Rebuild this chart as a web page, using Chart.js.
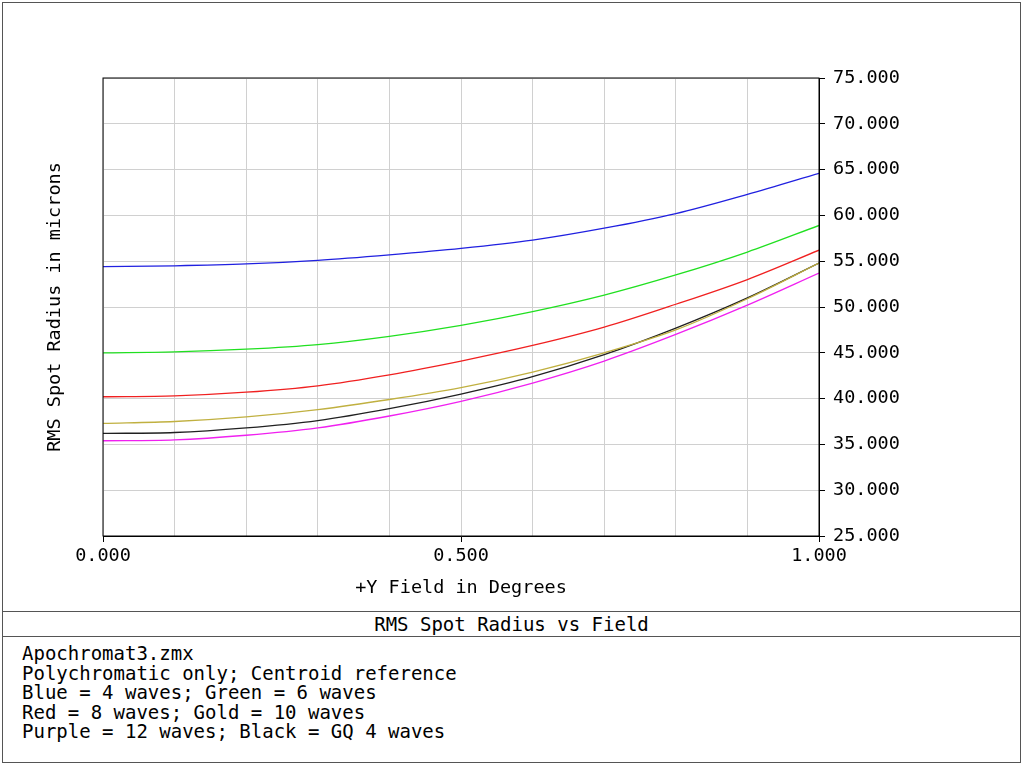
<!DOCTYPE html>
<html>
<head>
<meta charset="UTF-8">
<script src="https://cdn.jsdelivr.net/npm/chart.js"></script>
<style>
  body { margin: 0; background: #fff; font-family: 'DejaVu Sans Mono', monospace; }
  #frame { position: absolute; left: 2px; top: 2px; width: 1017px; height: 759px; border: 1px solid #555; }
  #plot { position: absolute; left: 0; top: 0; width: 1017px; height: 608px; }
  #title { position: absolute; left: 0; top: 608px; width: 1017px; height: 24px; border-top: 1px solid #555; border-bottom: 1px solid #555;
           text-align: center; font-size: 19px; line-height: 24px; }
  #notes { position: absolute; left: 19px; top: 641px; font-size: 19px; line-height: 19.5px; white-space: pre; }
</style>
</head>
<body>
<div id="frame">
  <div id="plot"><canvas id="c"></canvas></div>
  <div id="title">RMS Spot Radius vs Field</div>
  <div id="notes">Apochromat3.zmx
Polychromatic only; Centroid reference
Blue = 4 waves; Green = 6 waves
Red = 8 waves; Gold = 10 waves
Purple = 12 waves; Black = GQ 4 waves</div>
</div>
<script>
const field = [0, 0.1, 0.2, 0.3, 0.4, 0.5, 0.6, 0.7, 0.8, 0.9, 1.0];
const blue   = [54.4, 54.5, 54.7, 55.1, 55.7, 56.4, 57.3, 58.6, 60.2, 62.3, 64.6];
const green  = [45.0, 45.1, 45.4, 45.9, 46.8, 48.0, 49.5, 51.3, 53.5, 56.0, 58.9];
const red    = [40.2, 40.3, 40.7, 41.4, 42.6, 44.1, 45.8, 47.8, 50.3, 53.0, 56.2];
const gold   = [37.3, 37.5, 38.0, 38.8, 39.9, 41.2, 42.9, 45.0, 47.5, 50.9, 54.8];
const black  = [36.2, 36.3, 36.8, 37.6, 38.9, 40.5, 42.4, 44.8, 47.7, 51.0, 54.8];
const purple = [35.4, 35.5, 36.0, 36.8, 38.1, 39.7, 41.7, 44.1, 47.0, 50.2, 53.7];

const series = [
  { label: 'Blue', data: blue, color: '#2020e0' },
  { label: 'Green', data: green, color: '#20e020' },
  { label: 'Red', data: red, color: '#f02020' },
  { label: 'Gold', data: gold, color: '#c0b040' },
  { label: 'Black', data: black, color: '#202020' },
  { label: 'Purple', data: purple, color: '#f020f0' }
];

const font = { family: 'DejaVu Sans Mono', size: 18.5 };
const isMajor = v => Math.abs(v * 10 - Math.round(v * 2) * 5) < 1e-6;

const framePlugin = {
  id: 'framePlugin',
  afterDraw(chart) {
    const { ctx, chartArea: a } = chart;
    ctx.save();
    ctx.strokeStyle = '#000';
    ctx.lineWidth = 1;
    ctx.strokeRect(a.left, a.top, a.right - a.left, a.bottom - a.top);
    ctx.fillStyle = '#000';
    ctx.font = '18.5px DejaVu Sans Mono';
    ctx.translate(52, (a.top + a.bottom) / 2);
    ctx.rotate(-Math.PI / 2);
    ctx.textAlign = 'center';
    ctx.textBaseline = 'middle';
    ctx.fillText('RMS Spot Radius in microns', 0, 0);
    ctx.restore();
  }
};

new Chart(document.getElementById('c'), {
  type: 'line',
  data: {
    datasets: series.map(s => ({
      label: s.label,
      data: field.map((x, i) => ({ x: x, y: s.data[i] })),
      borderColor: s.color,
      borderWidth: 1.3,
      pointRadius: 0,
      cubicInterpolationMode: 'monotone',
      fill: false
    }))
  },
  options: {
    responsive: true,
    maintainAspectRatio: false,
    animation: false,
    layout: { padding: { left: 100, top: 75, right: 0, bottom: 0 } },
    plugins: { legend: { display: false }, tooltip: { enabled: false } },
    scales: {
      x: {
        type: 'linear', min: 0, max: 1,
        grid: {
          color: '#d0d0d0', tickLength: 6,
          tickColor: c => (c.tick && isMajor(c.tick.value) ? '#000' : 'rgba(0,0,0,0)')
        },
        border: { color: '#000' },
        ticks: {
          stepSize: 0.1, color: '#000', font: font, maxRotation: 0, autoSkip: false,
          callback: v => (isMajor(v) ? v.toFixed(3) : '')
        },
        title: { display: true, text: '+Y Field in Degrees', color: '#000', font: font, padding: { top: 0, bottom: 12 } },
        afterFit: s => { s.height = 75; }
      },
      y: {
        position: 'right', min: 25, max: 75,
        grid: { color: '#d0d0d0', tickLength: 6, tickColor: '#000' },
        border: { color: '#000' },
        ticks: { stepSize: 5, color: '#000', font: font, padding: 8, callback: v => v.toFixed(3) },
        afterFit: s => { s.width = 201; }
      }
    }
  },
  plugins: [framePlugin]
});
</script>
</body>
</html>
